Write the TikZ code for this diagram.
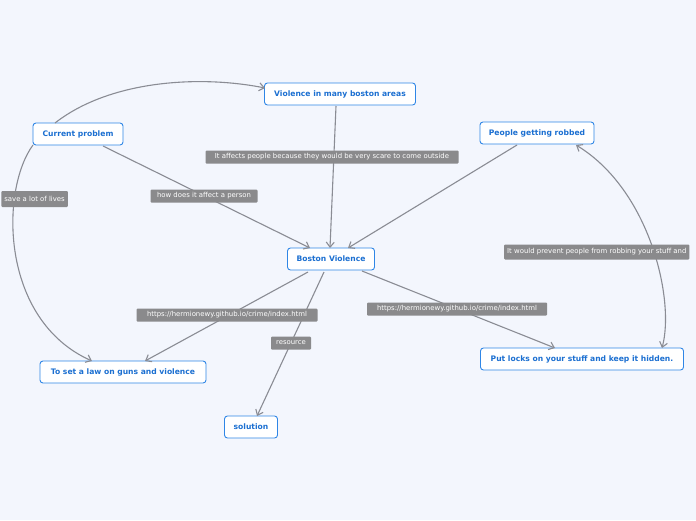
\documentclass[tikz,border=0pt]{standalone}
\usepackage{fontspec}
\setmainfont{DejaVu Sans}
\usetikzlibrary{arrows.meta}
\definecolor{bg}{HTML}{F3F6FD}
\definecolor{bord}{HTML}{2F86E6}
\definecolor{txt}{HTML}{1B6FD1}
\definecolor{lab}{HTML}{8A8A8C}
\definecolor{edge}{HTML}{8A8C94}
\tikzset{
 topic/.style={draw=bord,line width=0.9pt,fill=white,rounded corners=3pt,text=txt,font=\fontsize{7.6}{9}\selectfont\bfseries,minimum height=22pt,inner xsep=7pt},
 lbl/.style={fill=lab,text=white,font=\fontsize{6.9}{7.5}\selectfont,rounded corners=1pt,inner xsep=3pt,minimum height=13pt,inner ysep=1pt},
 conn/.style={draw=edge,line width=1.1pt,-{Straight Barb[length=5pt,width=8pt]}},
}
\begin{document}
\begin{tikzpicture}[x=1pt,y=-1pt]
\useasboundingbox (0,0) rectangle (696,520);
\clip (0,0) rectangle (696,520);
\fill[bg] (0,0) rectangle (696,520);
% nodes
\node[topic,minimum width=151pt] (via) at (340,94) {Violence in many boston areas};
\node[topic,minimum width=90pt] (cur) at (78,134) {Current problem};
\node[topic,minimum width=114pt] (rob) at (537,133) {People getting robbed};
\node[topic,minimum width=87pt] (bv) at (331,259) {Boston Violence};
\node[topic,minimum width=166pt] (law) at (123,372) {To set a law on guns and violence};
\node[topic,minimum width=53pt] (sol) at (251,427) {solution};
\node[topic,minimum width=203pt] (lock) at (582,359) {Put locks on your stuff and keep it hidden.};
% connectors
\coordinate (c1) at (55,123); \coordinate (c2) at (265,88);
\draw[conn] (c1) .. controls (110,80) and (200,75) .. (c2);
\coordinate (c3) at (33,145); \coordinate (c4) at (92,361);
\draw[conn] (c3) .. controls (0,190) and (0,320) .. (c4);
\coordinate (a1) at (103,146); \coordinate (a2) at (310,248);
\draw[conn] (a1) -- (a2);
\coordinate (b1) at (336,106); \coordinate (b2) at (330,248);
\draw[conn] (b1) -- (b2);
\coordinate (d1) at (517,145); \coordinate (d2) at (348,248);
\draw[conn] (d1) -- (d2);
\coordinate (e1) at (308,272); \coordinate (e2) at (145,361);
\draw[conn] (e1) -- (e2);
\coordinate (f1) at (324,272); \coordinate (f2) at (257,416);
\draw[conn] (f1) -- (f2);
\coordinate (g1) at (362,271); \coordinate (g2) at (555,348);
\draw[conn] (g1) -- (g2);
\coordinate (h1) at (662,348); \coordinate (h2) at (576,145);
\draw[conn,{Straight Barb[length=5pt,width=8pt]}-{Straight Barb[length=5pt,width=8pt]}] (h1) .. controls (675,300) and (650,190) .. (h2);
% labels
\node[lbl,minimum width=253pt] (l1) at (332,157) {It affects people because they would be very scare to come outside};
\node[lbl,minimum width=107pt] (l2) at (204,196) {how does it affect a person};
\node[lbl,anchor=east,minimum height=16pt] (l3) at (68,199) {save a lot of lives};
\node[lbl,minimum width=181pt] (l4) at (227,315) {https://hermionewy.github.io/crime/index.html};
\node[lbl,minimum width=40pt] (l5) at (291,343) {resource};
\node[lbl,minimum width=180pt] (l6) at (457,309) {https://hermionewy.github.io/crime/index.html};
\node[lbl,anchor=west,minimum height=15pt] (l7) at (504,252) {It would prevent people from robbing your stuff and};
\end{tikzpicture}
\end{document}
